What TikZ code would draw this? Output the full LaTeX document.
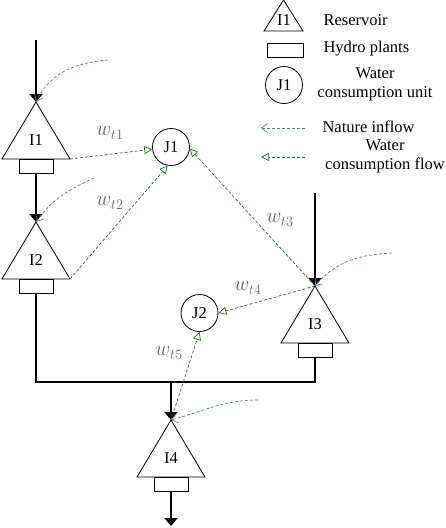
\documentclass[tikz,border=0pt]{standalone}
\usepackage{fontspec}
\setmainfont{Liberation Serif}
\usetikzlibrary{arrows.meta}

\definecolor{inflowblue}{RGB}{90,120,165}
\definecolor{useflowgreen}{RGB}{35,115,35}
\definecolor{labelgray}{RGB}{105,105,105}

\tikzset{
  main/.style={line width=2.4pt,-{Triangle[width=13pt,length=8pt]}},
  outline/.style={line width=0.8pt},
  inflow/.style={inflowblue,line width=0.7pt,dash pattern=on 3pt off 2pt,
    -{Straight Barb[length=6pt,width=9pt]}},
  useflow/.style={useflowgreen,line width=0.7pt,dash pattern=on 3pt off 2pt,
    -{Triangle[open,width=8pt,length=8pt]}},
  unit/.style={draw,circle,line width=0.8pt,minimum size=37pt,inner sep=0pt},
  wlabel/.style={labelgray,font=\fontsize{20}{20}\selectfont},
  txt/.style={font=\fontsize{16.5}{19}\selectfont}
}

\begin{document}
\begin{tikzpicture}[x=1pt,y=1pt,txt]
\useasboundingbox (0,0) rectangle (446,-528);

% reservoirs with their hydro plants
\foreach \n/\x/\y in {I1/36/-102,I2/36/-222,I3/315/-286,I4/171/-420}{
  \draw[outline] (\x,\y) -- (\x+34,\y-57) -- (\x-34,\y-57) -- cycle;
  \draw[outline] (\x-17,\y-57) rectangle (\x+17,\y-71);
  \node (\n) at (\x,\y-38) {\n};
  \coordinate (\n-top) at (\x,\y);
  \coordinate (\n-right) at (\x+34,\y-57);
  \coordinate (\n-bot) at (\x,\y-71);
}

% water consumption units
\node[unit] (J1) at (171,-147) {J1};
\node[unit] (J2) at (199.5,-313) {J2};

% river
\coordinate (src1) at (36,-40);
\coordinate (src3) at (315,-193);
\coordinate (busL) at (36,-382);
\coordinate (busR) at (315,-382);
\coordinate (sink) at (171,-526);
\draw[main] (src1) -- (I1-top);
\draw[main] (I1-bot) -- (I2-top);
\draw[main] (src3) -- (I3-top);
\draw[line width=2.4pt] (I2-bot) -- (busL) -- (busR) -- (I3-bot);
\draw[main] (I4-top |- busL) -- (I4-top);
\draw[main] (I4-bot) -- (sink);

% nature inflow
\coordinate (rain1) at (108,-60);
\coordinate (rain2) at (94,-178);
\coordinate (rain3) at (392,-253);
\coordinate (rain4) at (258,-400);
\draw[inflow] (rain1) to[out=185,in=65] (I1-top);
\draw[inflow] (rain2) to[out=205,in=55] (I2-top);
\draw[inflow] (rain3) to[out=183,in=50] (I3-top);
\draw[inflow] (rain4) to[out=180,in=15] (I4-top);

% consumption flow
\draw[useflow] (I1-right) -- (J1);
\draw[useflow] (I2-right) -- (J1.260);
\draw[useflow] (I3-top) -- (J1.-5);
\draw[useflow] (I3-top) -- (J2.east);
\draw[useflow] (I4-top) -- (J2.south);

\node[wlabel] (w1) at (110,-133) {$w_{t1}$};
\node[wlabel] (w2) at (110,-203) {$w_{t2}$};
\node[wlabel] (w3) at (280,-220) {$w_{t3}$};
\node[wlabel] (w4) at (248,-288) {$w_{t4}$};
\node[wlabel] (w5) at (169,-353) {$w_{t5}$};

% legend
\draw[outline] (283.5,0) -- (303,-31) -- (264,-31) -- cycle;
\node (keyI) at (284,-20) {I1};
\draw[outline] (267,-43) rectangle (303,-57);
\node[unit] (keyJ) at (284,-85) {J1};
\coordinate (keyA1) at (305,-128);
\coordinate (keyA2) at (261,-128);
\coordinate (keyB1) at (305,-157);
\coordinate (keyB2) at (261,-157);
\draw[inflow] (keyA1) -- (keyA2);
\draw[useflow] (keyB1) -- (keyB2);
\node[anchor=west] (keyres) at (320,-20) {Reservoir};
\node[anchor=west] (keyplant) at (320,-49) {Hydro plants};
\node[align=center] (keyunit) at (375,-84) {Water\\consumption unit};
\node[anchor=west] (keyinflow) at (319,-127) {Nature inflow};
\node[align=center] (keyflow) at (385,-156) {Water\\consumption flow};
\end{tikzpicture}
\end{document}
